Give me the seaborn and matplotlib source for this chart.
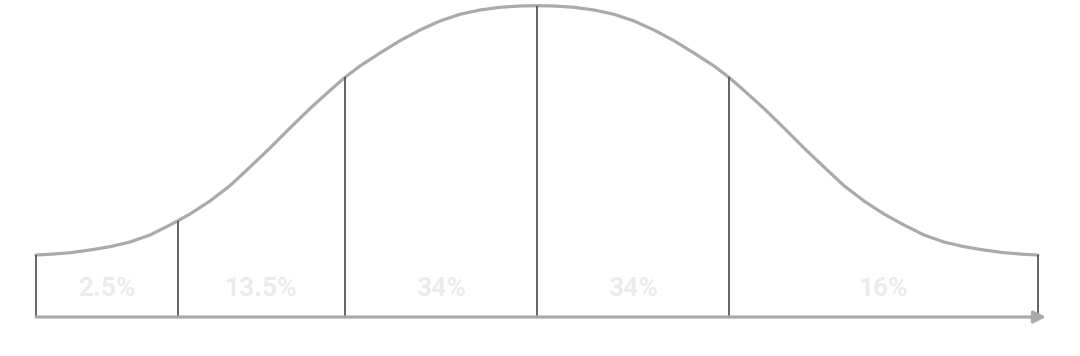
import matplotlib
matplotlib.use("Agg")
import matplotlib.pyplot as plt
import seaborn as sns
import pandas as pd

# Bell curve outline (position along axis, height above axis)
curve_pos = [0, 14, 34, 54, 74, 94, 114, 134, 142, 154, 174, 194, 214, 234, 254,
             274, 294, 309, 324, 344, 364, 384, 404, 424, 444, 464, 484, 501,
             518, 538, 558, 578, 598, 618, 638, 658, 678, 693, 708, 728, 748,
             768, 788, 808, 828, 848, 860, 868, 888, 908, 928, 948, 968, 988, 1002]
curve_height = [62, 62.7, 64.3, 67, 70.3, 75, 82, 92, 96.3, 103, 116, 131.3, 150,
                169, 189, 208.5, 226.5, 239.7, 251, 264, 276.3, 287, 296, 302.7,
                307, 309.7, 311, 311.3,
                311, 309.7, 307, 302.7, 296, 287, 276.3, 264, 251, 239.7, 226.5,
                208.5, 189, 169, 150, 131.3, 116, 103, 96.3, 92, 82, 75, 70.3, 67,
                64.3, 62.7, 62]

# Section boundaries and their heights on the curve
bound_pos = [0, 142, 309, 501, 693, 1002]
bound_height = [62, 96.3, 239.7, 311.3, 239.7, 62]

# Section labels
section_labels = ["2.5%", "13.5%", "34%", "34%", "16%"]

sns.set_theme(style="white")
plt.rcParams["font.family"] = ["Roboto", "DejaVu Sans"]

fig = plt.figure(figsize=(10.8, 3.56), dpi=100)
ax = fig.add_axes([0, 0, 1, 1])

df = pd.DataFrame({"pos": curve_pos, "height": curve_height})
sns.lineplot(data=df, x="pos", y="height", ax=ax, color="#aaaaaa", linewidth=2.3,
             sort=False, estimator=None)

ax.vlines(bound_pos, 0, bound_height, color="#4a4a4a", linewidth=1.2, zorder=3)

# axis arrow
ax.annotate("", xy=(1010, 0), xytext=(0, 0),
            arrowprops=dict(arrowstyle="-|>", color="#aaaaaa", lw=2.3,
                            shrinkA=0, shrinkB=0, mutation_scale=18))

for i, lab in enumerate(section_labels):
    cx = (bound_pos[i] + bound_pos[i + 1]) / 2
    ax.text(cx, 28, lab, ha="center", va="center", fontsize=19, fontweight="bold",
            color="#ebebeb")

ax.set_xlim(-36, 1044)
ax.set_ylim(-39, 317)
ax.axis("off")

fig.savefig("out.png", dpi=100)
